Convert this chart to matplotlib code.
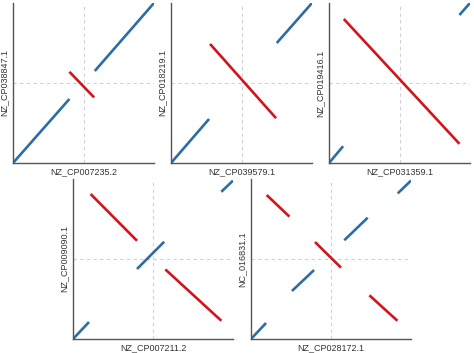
import matplotlib
matplotlib.use("Agg")
import matplotlib.pyplot as plt

plt.rcParams["font.family"] = ["Liberation Sans", "DejaVu Sans"]

BLUE = "#2e6da4"
RED = "#d0151c"

# panel labels (x = reference, y = query)
x_names = ["NZ_CP007235.2", "NZ_CP039579.1", "NZ_CP031359.1", "NZ_CP007211.2", "NZ_CP028172.1"]
y_names = ["NZ_CP038847.1", "NZ_CP018219.1", "NZ_CP019416.1", "NZ_CP009090.1", "NC_016831.1"]

# alignment segments per panel, relative positions (x start, x end, y start, y end)
p1_x0 = [0.00, 0.40, 0.58]
p1_x1 = [0.40, 0.575, 1.00]
p1_y0 = [0.00, 0.57, 0.575]
p1_y1 = [0.40, 0.41, 1.00]
p1_dir = ["+", "-", "+"]

p2_x0 = [0.00, 0.277, 0.75]
p2_x1 = [0.27, 0.745, 1.00]
p2_y0 = [0.00, 0.744, 0.75]
p2_y1 = [0.275, 0.28, 1.00]
p2_dir = ["+", "-", "+"]

p3_x0 = [0.00, 0.105, 0.925]
p3_x1 = [0.10, 0.925, 1.00]
p3_y0 = [0.00, 0.90, 0.925]
p3_y1 = [0.105, 0.12, 1.00]
p3_dir = ["+", "-", "+"]

p4_x0 = [0.00, 0.11, 0.40, 0.577, 0.927]
p4_x1 = [0.10, 0.40, 0.57, 0.927, 1.00]
p4_y0 = [0.00, 0.906, 0.4375, 0.435, 0.92]
p4_y1 = [0.106, 0.614, 0.608, 0.114, 0.99]
p4_dir = ["+", "-", "+", "-", "+"]

p5_x0 = [0.00, 0.098, 0.256, 0.40, 0.583, 0.74, 0.917]
p5_x1 = [0.094, 0.24, 0.394, 0.5625, 0.729, 0.915, 1.00]
p5_y0 = [0.00, 0.90, 0.30, 0.606, 0.617, 0.273, 0.91]
p5_y1 = [0.10, 0.765, 0.431, 0.446, 0.758, 0.114, 0.99]
p5_dir = ["+", "-", "+", "-", "+", "-", "+"]

panels = [
    (p1_x0, p1_x1, p1_y0, p1_y1, p1_dir),
    (p2_x0, p2_x1, p2_y0, p2_y1, p2_dir),
    (p3_x0, p3_x1, p3_y0, p3_y1, p3_dir),
    (p4_x0, p4_x1, p4_y0, p4_y1, p4_dir),
    (p5_x0, p5_x1, p5_y0, p5_y1, p5_dir),
]

W, H = 474, 353
# axes boxes in pixels: left, top, width, height
boxes = [(13, 3, 141, 160), (171, 3, 141, 160), (329, 3, 141, 160),
         (73, 179, 160, 160), (251, 179, 160, 160)]

fig = plt.figure(figsize=(W / 100, H / 100), dpi=100)

for i, (x0, x1, y0, y1, d) in enumerate(panels):
    l, t, w, h = boxes[i]
    ax = fig.add_axes([l / W, (H - t - h) / H, w / W, h / H])
    ax.axvline(0.5, color="#d0d0d0", lw=0.8, ls=(0, (3, 3)), zorder=0)
    ax.axhline(0.5, color="#d0d0d0", lw=0.8, ls=(0, (3, 3)), zorder=0)
    for a, b, c, e, s in zip(x0, x1, y0, y1, d):
        ax.plot([a, b], [c, e], color=BLUE if s == "+" else RED, lw=1.9, solid_capstyle="butt")
    ax.set_xlim(0, 1)
    ax.set_ylim(0, 1)
    ax.set_xticks([])
    ax.set_yticks([])
    for side in ["top", "right"]:
        ax.spines[side].set_visible(False)
    for side in ["left", "bottom"]:
        ax.spines[side].set_color("#555555")
        ax.spines[side].set_linewidth(1)
    ax.set_xlabel(x_names[i], fontsize=6.5, color="#333333", labelpad=3)
    ax.set_ylabel(y_names[i], fontsize=6.5, color="#333333", labelpad=3)

fig.savefig("out.png", dpi=100)
